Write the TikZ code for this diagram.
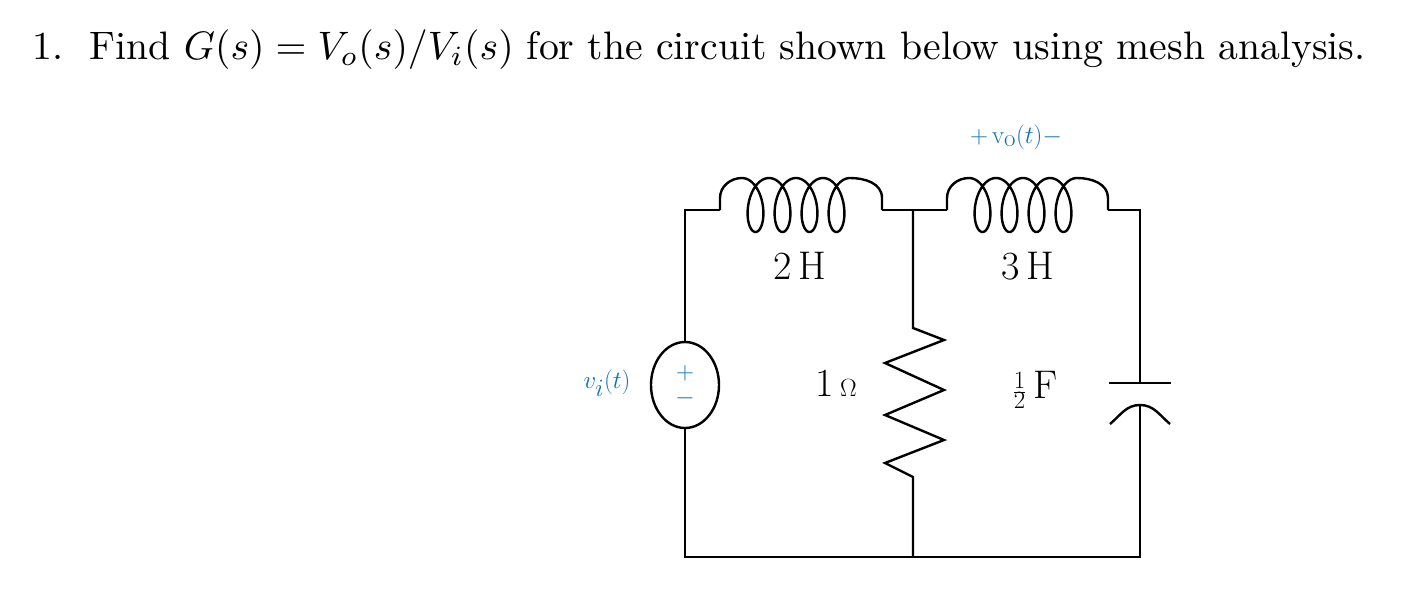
\documentclass[tikz,border=0pt]{standalone}
\usepackage{graphicx}
\usetikzlibrary{shapes.geometric}
\begin{document}
\definecolor{eblue}{RGB}{10,115,180}
\begin{tikzpicture}[x=1pt,y=-1pt,wire/.style={line width=2.4pt,line join=miter},
 lbl/.style={font=\fontsize{40}{44}\selectfont,inner sep=0pt}]
\useasboundingbox (0,0) rectangle (1414,608);
\node[anchor=west,inner sep=0pt] (title) at (32,50) {\resizebox{1333pt}{!}{1.\ \ Find $G(s)=V_o(s)/V_i(s)$ for the circuit shown below using mesh analysis.}};
% coordinates
\coordinate (tl) at (685,210); \coordinate (tm) at (913,210); \coordinate (tr) at (1140,210);
\coordinate (bl) at (685,557); \coordinate (bm) at (913,557); \coordinate (br) at (1140,557);
\node[draw,ellipse,line width=2.4pt,minimum width=68pt,minimum height=86pt,inner sep=0pt] (src) at (685,385) {};
\node[eblue,font=\fontsize{34}{36}\selectfont] at (685,373) {$+$};
\node[eblue,font=\fontsize{34}{36}\selectfont] at (685,398) {$-$};
% wires
\draw[wire] (src.north) -- (tl) -- (720,210);
\draw[wire] (src.south) -- (bl) -- (br) -- (1140,423);
\draw[wire] (1140,383) -- (tr) -- (1108,210);
\draw[wire] (882,210) -- (947,210);
\draw[wire] (tm) -- (913,328) -- (944,340) -- (885,363) -- (944,390) -- (885,415) -- (944,440) -- (885,463) -- (913,477) -- (bm);
% inductors
\draw[wire,line join=round] (720,210) -- (720,198) to[out=90,in=180] (742,178)
  plot[domain=0:1440,samples=240] ({742+\x/360*27+14*sin(\x)},{205-27*cos(\x)})
  to[out=0,in=90] (882,198) -- (882,210);
\draw[wire,line join=round] (947,210) -- (947,198) to[out=90,in=180] (969,178)
  plot[domain=0:1440,samples=240] ({969+\x/360*27+14*sin(\x)},{205-27*cos(\x)})
  to[out=0,in=90] (1108,198) -- (1108,210);
% capacitor
\draw[wire] (1109,383) -- (1171,383);
\draw[wire] (1140,405) -- (1140,423);
\draw[wire] (1110,424) to[out=40,in=180] (1140,405) to[out=0,in=140] (1170,424);
% labels
\node[lbl] (l2) at (800,266) {2\,H};
\node[lbl] (l3) at (1028,266) {3\,H};
\node[lbl] (lr) at (836,383) {1\,$\Omega$};
\node[lbl] (lc) at (1035,390) {$\frac{1}{2}$\,F};
\node[lbl,eblue] (vi) at (607,383) {$v_i(t)$};
\node[lbl,eblue] (vo) at (1016,137) {$+\,\mathrm{v_o}(t)-$};
\end{tikzpicture}
\end{document}
